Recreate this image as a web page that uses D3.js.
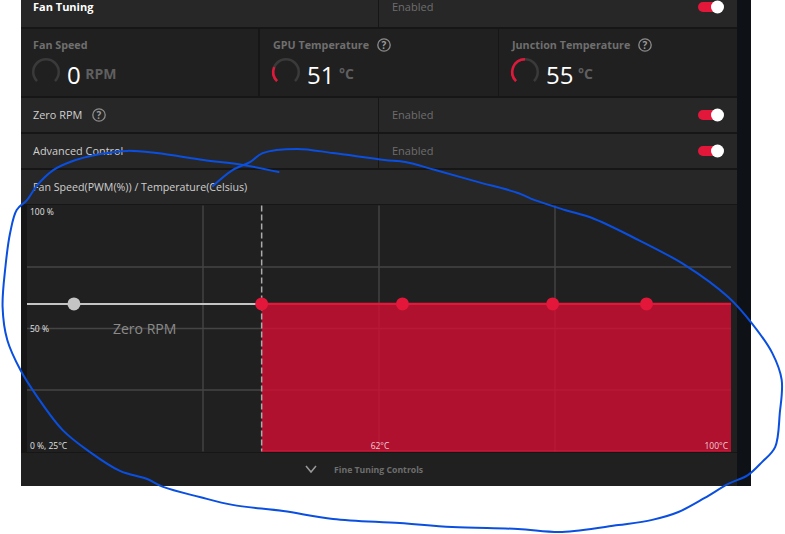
<!DOCTYPE html>
<meta charset="utf-8">
<style>
  html, body { margin: 0; background: #fff; }
  svg { display: block; }
  text { font-family: "Open Sans", "Noto Sans", sans-serif; }
</style>
<body>
<script src="https://d3js.org/d3.v7.min.js"></script>
<script>
// fan curve points
var curveTemp = [30, 50, 65, 81, 91];
var curvePwm = [60, 60, 60, 60, 60];
var zeroRpmStop = 50;
var gridTemp = [43.75, 62.5, 81.25];
var gridPwm = [25, 50, 75];

// readouts
var metricNames = ["Fan Speed", "GPU Temperature", "Junction Temperature"];
var metricValues = ["0", "51", "55"];
var metricUnits = ["RPM", "°C", "°C"];
var metricFill = [0, 0.25, 0.5];
var rowNames = ["Zero RPM", "Advanced Control"];

// the blue pen scribble, read in the chart's own units
var penTemp = [51.8, 48, 43.8, 38.8, 35.7, 32.8, 29.6, 27.8, 26.1, 25, 23.9, 23.2, 22.7, 22.4, 22.9, 24.3, 26.1, 28.8, 31.7, 34.9, 37.8, 39.5, 43.4, 46.9, 52.3, 57.6, 64.7, 70.3, 77.3, 82, 88, 91.6, 94.4, 97.2, 99.7, 101.8, 103.3, 104.7, 105.2, 105.4, 104.4, 102.2, 99.7, 95.1, 89.5, 85.2, 82.3, 79.1, 77.3, 73, 68.5, 65.3, 63.1, 57.6, 53.8, 50.1, 48.8, 46.9, 44.8];
var penPwm = [113.6, 116.5, 118.5, 121.3, 122.2, 120.9, 117.7, 114.4, 108.3, 102.2, 98.2, 88.8, 75, 58.7, 45.3, 33.1, 22.2, 8.7, -0.2, -7.9, -11.2, -14.4, -18.5, -21.7, -24.2, -27.4, -29.1, -30.7, -31.5, -32.7, -29.9, -27.8, -24.6, -18.9, -13.2, -9.6, -4.3, 1.8, 15.7, 29.1, 40, 52.2, 62.8, 75.8, 87.2, 94.9, 98.2, 102.2, 105.1, 109.6, 114.4, 117.7, 118.5, 121.3, 123, 121.3, 117.7, 114.4, 107.9];

var svg = d3.select("body").append("svg")
  .attr("width", 785)
  .attr("height", 534);

var x = d3.scaleLinear().domain([25, 100]).range([27, 731]);
var y = d3.scaleLinear().domain([0, 100]).range([451.5, 205.5]);

function box(x0, y0, w, h, fill) {
  svg.append("rect").attr("x", x0).attr("y", y0).attr("width", w).attr("height", h).attr("fill", fill);
}
function label(s, px, py, size, fill, weight, anchor) {
  return svg.append("text").attr("x", px).attr("y", py)
    .attr("font-size", size).attr("fill", fill)
    .attr("font-weight", weight || 400)
    .attr("text-anchor", anchor || "start")
    .text(s);
}
function help(px, py) {
  svg.append("circle").attr("cx", px).attr("cy", py).attr("r", 6.2)
    .attr("fill", "none").attr("stroke", "#8c8c8c").attr("stroke-width", 1.3);
  label("?", px, py + 3.5, 10, "#9a9a9a", 700, "middle");
}
function toggle(py) {
  svg.append("rect").attr("x", 698).attr("y", py - 5).attr("width", 24).attr("height", 10)
    .attr("rx", 5).attr("fill", "#e2173a");
  svg.append("circle").attr("cx", 717.5).attr("cy", py).attr("r", 6.5).attr("fill", "#fff");
}

// panel
box(21, 0, 730, 486, "#0e1116");
box(21, 0, 716, 486, "#161616");
box(21, 0, 357, 27, "#272727");
box(379, 0, 358, 27, "#272727");
box(21, 29, 237, 67, "#202020");
box(260, 29, 238, 67, "#202020");
box(499, 29, 238, 67, "#202020");
box(21, 98, 357, 34, "#272727");
box(379, 98, 358, 34, "#272727");
box(21, 134, 357, 34, "#272727");
box(379, 134, 358, 34, "#272727");
box(21, 170, 716, 34, "#272727");
box(27, 205, 710, 247, "#202020");
box(21, 453, 716, 33, "#202020");

// text rows
label("Fan Tuning", 33, 11, 11, "#fff", 700);
[7, 115, 151].forEach(function(py) {
  label("Enabled", 392, py + 4, 11, "#6e6e6e");
  toggle(py);
});
rowNames.forEach(function(s, i) {
  label(s, 33, 119 + i * 36, 10.9, "#cfcfcf");
});
help(99, 115);
label("Fan Speed(PWM(%)) / Temperature(Celsius)", 33, 191, 10.65, "#cfcfcf");

// readouts
var metricX = [33, 273, 512];
var gaugeAngle = d3.scaleLinear().domain([0, 1]).range([-2.36, 2.36]);
var arc = d3.arc().innerRadius(11.5).outerRadius(14);
metricNames.forEach(function(s, i) {
  var mx = metricX[i];
  label(s, mx, 49, 10.75, "#6f6f6f", 700);
  var g = svg.append("g").attr("transform", "translate(" + (mx + 13) + ",72)");
  g.append("path").attr("fill", "#3a3a3a")
    .attr("d", arc({ startAngle: gaugeAngle(0), endAngle: gaugeAngle(1) }));
  if (metricFill[i] > 0) {
    g.append("path").attr("fill", "#e2173a")
      .attr("d", arc({ startAngle: gaugeAngle(0), endAngle: gaugeAngle(metricFill[i]) }));
  }
  var big = label(metricValues[i], mx + 34, 84, 24, "#fff");
  var w = big.node().getComputedTextLength();
  label(metricUnits[i], mx + 34 + w + 4.5, 79, 14, "#5f5f5f", 700);
});
help(384, 45);
help(645, 45);

// plot: grid sits under a see-through area so it only shows faintly on the red
svg.append("g").selectAll("line").data(gridTemp).enter().append("line")
  .attr("x1", x).attr("x2", x)
  .attr("y1", y(100)).attr("y2", y(0))
  .attr("stroke", "#454545").attr("stroke-width", 1.4);
svg.append("g").selectAll("line").data(gridPwm).enter().append("line")
  .attr("x1", x(25)).attr("x2", x(100))
  .attr("y1", y).attr("y2", y)
  .attr("stroke", "#454545").attr("stroke-width", 1.4);

var area = d3.area()
  .x(function(d) { return x(d); })
  .y0(y(0))
  .y1(y(curvePwm[0]));
svg.append("path").datum([zeroRpmStop, 100]).attr("d", area)
  .attr("fill", "#d40e33").attr("fill-opacity", 0.8);

svg.append("line").attr("x1", x(zeroRpmStop)).attr("x2", x(zeroRpmStop))
  .attr("y1", y(100)).attr("y2", y(0))
  .attr("stroke", "#ababab").attr("stroke-width", 1.5).attr("stroke-dasharray", "6,3");
svg.append("line").attr("x1", x(zeroRpmStop)).attr("x2", x(100)).attr("y1", y(0) - 0.5).attr("y2", y(0) - 0.5)
  .attr("stroke", "#e2173a").attr("stroke-width", 1);

svg.append("line").attr("x1", x(25)).attr("x2", x(zeroRpmStop))
  .attr("y1", y(curvePwm[0])).attr("y2", y(curvePwm[0]))
  .attr("stroke", "#c4c4c4").attr("stroke-width", 2);
svg.append("line").attr("x1", x(zeroRpmStop)).attr("x2", x(100))
  .attr("y1", y(curvePwm[0])).attr("y2", y(curvePwm[0]))
  .attr("stroke", "#e2173a").attr("stroke-width", 2.4);

svg.append("g").selectAll("circle").data(curveTemp).enter().append("circle")
  .attr("cx", x)
  .attr("cy", function(d, i) { return y(curvePwm[i]); })
  .attr("r", 6.5)
  .attr("fill", function(d) { return d < zeroRpmStop ? "#c4c4c4" : "#e2173a"; });

label("Zero RPM", 113, 334, 14, "#8a8a8a");
label("100 %", 30, 215, 8.5, "#e0e0e0");
label("50 %", 30, 332, 8.5, "#e0e0e0");
label("0 %, 25°C", 30, 449, 8.5, "#e0e0e0");
label("62°C", x(62.5) + 1, 449, 8.5, "#f0d0d5", 400, "middle");
label("100°C", x(100) - 3, 449, 8.5, "#f0d0d5", 400, "end");

// footer
svg.append("path").attr("d", d3.line()([[306, 466], [311, 472], [316, 466]]))
  .attr("fill", "none").attr("stroke", "#9a9a9a").attr("stroke-width", 1.5);
label("Fine Tuning Controls", 334, 473, 8.7, "#6e6e6e", 700);

// pen scribble over everything
var pen = d3.line()
  .x(function(d) { return x(d); })
  .y(function(d, i) { return y(penPwm[i]); })
  .curve(d3.curveCatmullRom);
svg.append("path").datum(penTemp).attr("d", pen)
  .attr("fill", "none").attr("stroke", "#0a4fe0").attr("stroke-width", 2)
  .attr("stroke-linejoin", "round").attr("stroke-linecap", "round");
</script>
</body>
